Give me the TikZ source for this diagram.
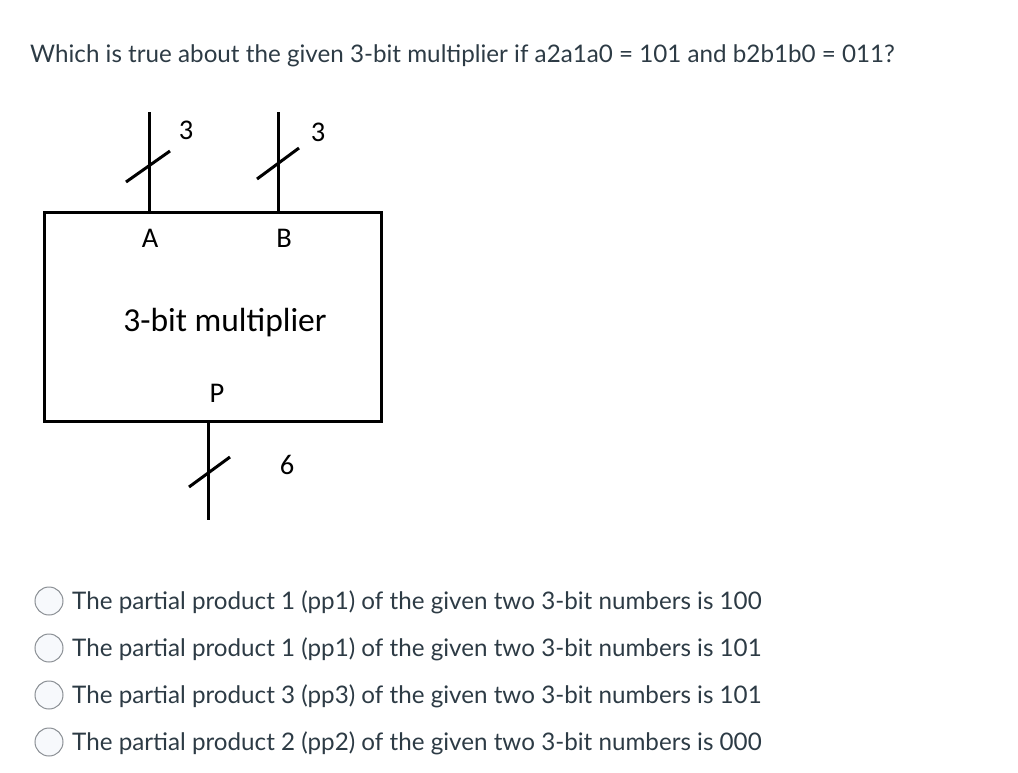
\documentclass[tikz,border=0pt]{standalone}
\usepackage{fontspec}
\setmainfont{Lato}
\newfontfamily\diag{Carlito}
\definecolor{txt}{HTML}{2D3B45}
\definecolor{radiofill}{HTML}{F7F9FC}
\definecolor{radioline}{HTML}{8A8F94}
\begin{document}
\begin{tikzpicture}[x=1pt,y=-1pt,
  wire/.style={line width=3pt},
  q/.style={anchor=base west,inner sep=0pt,text=txt,font=\fontsize{24.2}{28}\selectfont},
  lab/.style={inner sep=0pt,font=\diag\fontsize{28.5}{32}\selectfont},
  radio/.style={circle,draw=radioline,fill=radiofill,line width=1pt,minimum size=28pt,inner sep=0pt}]
\useasboundingbox (0,0) rectangle (1018,772);
\node[q] (title) at (30,62) {Which is true about the given 3-bit multiplier if a2a1a0 = 101 and b2b1b0 = 011?};
% box
\draw[wire] (44,212) rectangle (381,421);
\coordinate (boxA) at (149,212);
\coordinate (boxB) at (278,212);
\coordinate (boxP) at (208,421);
\coordinate (inA) at (149,112);
\coordinate (inB) at (278,112);
\coordinate (outP) at (208,520);
\draw[wire] (inA) -- (boxA);
\draw[wire] (inB) -- (boxB);
\draw[wire] (boxP) -- (outP);
\draw[wire] (126,182) -- (170,151);
\draw[wire] (257,179) -- (299,148);
\draw[wire] (189,487) -- (230,457);
\node[lab] (n3a) at (186,130) {3};
\node[lab] (n3b) at (318,132) {3};
\node[lab] (n6) at (287,465) {6};
\node[lab] (lA) at (150,238) {A};
\node[lab] (lB) at (284,238) {B};
\node[lab] (lP) at (217,393) {P};
\node[lab,font=\diag\fontsize{33.5}{37}\selectfont] (mult) at (225,323) {3-bit multiplier};
% options
\foreach \y/\t [count=\i] in {601/The partial product 1 (pp1) of the given two 3-bit numbers is 100,
  648/The partial product 1 (pp1) of the given two 3-bit numbers is 101,
  695/The partial product 3 (pp3) of the given two 3-bit numbers is 101,
  742/The partial product 2 (pp2) of the given two 3-bit numbers is 000} {
  \node[radio] (r\i) at (49,\y) {};
  \node[q] (o\i) at (72,\y+8) {\t};
}
\end{tikzpicture}
\end{document}
